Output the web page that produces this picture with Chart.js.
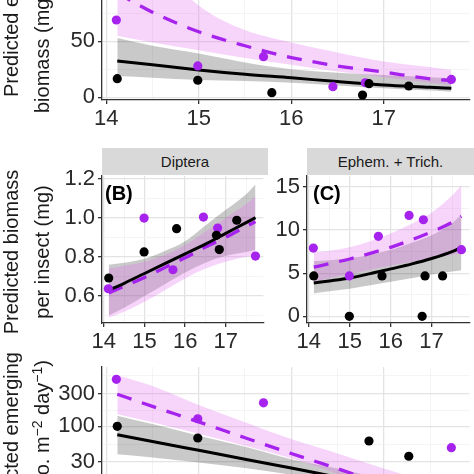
<!DOCTYPE html>
<html>
<head>
<meta charset="utf-8">
<script src="https://cdn.jsdelivr.net/npm/chart.js@4.4.1/dist/chart.umd.min.js"></script>
<style>
  html, body { margin: 0; padding: 0; background: #fff; }
  body { width: 474px; height: 474px; overflow: hidden; position: relative; font-family: "Liberation Sans", Arial, sans-serif; }
  canvas { position: absolute; }
  .strip { position: absolute; background: #d9d9d9; color: #1a1a1a; font-size: 15px; display: flex; align-items: center; justify-content: center; }
  .ytitle { position: absolute; width: 0; height: 0; transform: rotate(-90deg); transform-origin: 0 0; }
  .ytitle span { position: absolute; top: 0; white-space: nowrap; font-size: 20px; line-height: 20px; color: #1a1a1a; }
  .ytitle .start { left: 0; }
  .ytitle .end { right: 0; }
  .ytitle .mid { left: 0; transform: translateX(-50%); }
  .tag { position: absolute; font-weight: bold; font-size: 20px; line-height: 20px; color: #000; }
  sup { font-size: 0.7em; line-height: 0; vertical-align: 0.5em; }
</style>
</head>
<body>

<canvas id="chartA" width="474" height="190" style="left:0;top:-60px"></canvas>
<canvas id="chartB" width="268" height="203" style="left:0;top:150px"></canvas>
<canvas id="chartC" width="207" height="203" style="left:267px;top:150px"></canvas>
<canvas id="chartD" width="474" height="200" style="left:0;top:340px"></canvas>

<div class="strip" style="left:102px;top:148px;width:166px;height:27px">Diptera</div>
<div class="strip" style="left:307px;top:148px;width:167px;height:27px">Ephem. + Trich.</div>

<div class="tag" style="left:105px;top:183px">(B)</div>
<div class="tag" style="left:313px;top:183px">(C)</div>

<div class="ytitle" style="left:1px;top:97px"><span class="start">Predicted emerging</span></div>
<div class="ytitle" style="left:32px;top:113px"><span class="start">biomass (mg m<sup>−2</sup> day<sup>−1</sup>)</span></div>
<div class="ytitle" style="left:1px;top:252px"><span class="mid">Predicted biomass</span></div>
<div class="ytitle" style="left:32px;top:252px"><span class="mid">per insect (mg)</span></div>
<div class="ytitle" style="left:1px;top:352px"><span class="end">Predicted emerging</span></div>
<div class="ytitle" style="left:32px;top:360px"><span class="end">(no. m<sup>−2</sup> day<sup>−1</sup>)</span></div>

<script>
// x positions (temperature)
const xFit = [14.12, 14.5, 15, 15.5, 16, 16.5, 17, 17.5, 17.73];
const xBlackObs = [14.12, 14.99, 15.79, 16.77, 16.84, 17.27];
const xPurpleObs = [14.11, 14.99, 15.70, 16.45, 16.80, 17.73];
const xTicks = [14, 14.5, 15, 15.5, 16, 16.5, 17, 17.5];
const xLabels = ["14", "", "15", "", "16", "", "17", ""];

// (A) emerging biomass
const aBlackObs = [16.6, 15.2, 4.1, 2.0, 12.2, 10.1];
const aPurpleObs = [69, 28, 36.3, 9.5, 13, 16];
const aBlackFit = [32.4, 29, 24.4, 20.5, 17.4, 14, 11, 9, 8];
const aBlackLo = [19, 17.5, 15.5, 14.5, 13, 10.5, 8, 6, 5];
const aBlackHi = [53, 46, 39, 31, 25, 22, 20, 18, 17];
const aPurpleFit = [93, 76, 58.5, 46, 35.5, 28, 22.5, 16.5, 15];
const aPurpleLo = [55, 49, 42, 35, 29, 23, 18, 13, 11];
const aPurpleHi = [170, 125, 82, 60, 49, 40, 32, 27, 24.5];
const aYTicks = [0, 25, 50, 75, 100, 125];
const aYLabels = ["0", "", "50", "", "100", ""];

// (B) Diptera biomass per insect
const bBlackObs = [0.692, 0.825, 0.944, 0.91, 0.837, 0.987];
const bPurpleObs = [0.637, 0.998, 0.734, 1.003, 0.947, 0.804];
const bBlackFit = [0.63, 0.665, 0.715, 0.765, 0.815, 0.865, 0.92, 0.975, 1.0];
const bBlackLo = [0.50, 0.54, 0.60, 0.66, 0.72, 0.77, 0.805, 0.825, 0.835];
const bBlackHi = [0.76, 0.77, 0.79, 0.83, 0.88, 0.96, 1.04, 1.12, 1.17];
const bPurpleFit = [0.615, 0.65, 0.695, 0.745, 0.795, 0.85, 0.9, 0.955, 0.98];
const bPurpleLo = [0.49, 0.52, 0.57, 0.63, 0.69, 0.74, 0.775, 0.80, 0.81];
const bPurpleHi = [0.74, 0.755, 0.775, 0.81, 0.86, 0.93, 1.0, 1.07, 1.11];
const bYTicks = [0.5, 0.6, 0.7, 0.8, 0.9, 1.0, 1.1, 1.2];
const bYLabels = ["", "0.6", "", "0.8", "", "1.0", "", "1.2"];

// (C) Ephem. + Trich. biomass per insect
const cBlackObs = [4.68, 0, 4.68, 0, 4.68, 4.68];
const cPurpleObs = [7.92, 4.68, 9.28, 11.7, 11.2, 7.73];
const cBlackFit = [3.86, 4.1, 4.45, 4.95, 5.5, 6.05, 6.7, 7.5, 8.0];
const cBlackLo = [2.65, 2.9, 3.2, 3.6, 4.0, 4.4, 4.85, 5.2, 5.35];
const cBlackHi = [6.4, 6.5, 6.75, 7.15, 7.7, 8.5, 9.4, 10.8, 11.8];
const cPurpleFit = [5.7, 6.1, 6.65, 7.3, 8.0, 8.85, 9.8, 10.9, 11.6];
const cPurpleLo = [4.0, 4.4, 4.9, 5.4, 5.9, 6.3, 6.7, 7.1, 7.3];
const cPurpleHi = [7.45, 7.6, 8.0, 8.7, 9.6, 10.7, 12.0, 14.0, 15.2];
const cYTicks = [0, 2.5, 5, 7.5, 10, 12.5, 15];
const cYLabels = ["0", "", "5", "", "10", "", "15"];

// (D) emerging insects, log scale
const dBlackObs = [100, 67.4, 8, 5, 60.9, 36.4];
const dPurpleObs = [488, 129, 221, 10, 12, 48.6];
const dBlackFit = [75, 60, 44.5, 33, 24.5, 18, 13.3, 9.8, 8.4];
const dBlackLo = [39, 35, 29.5, 24.5, 19.5, 14.5, 10.5, 7.5, 6.5];
const dBlackHi = [143, 108, 73, 50, 33, 24, 17, 12.5, 11];
const dPurpleFit = [294, 196, 116, 68, 40, 24, 14, 8.3, 6.5];
const dPurpleLo = [150, 115, 78, 52, 34, 20, 11, 6, 4.5];
const dPurpleHi = [560, 390, 205, 115, 65, 40, 24, 15, 12];
const dYTicks = [10, 17.3, 30, 54.8, 100, 173, 300, 548];
const dYLabels = ["10", "", "30", "", "100", "", "300", ""];

const PURPLE = "#a623ee";
const PURPLE_FILL = "rgba(228, 110, 242, 0.29)";
const GREY_FILL = "rgba(0, 0, 0, 0.21)";
const TICK_FONT = { family: "'Liberation Sans', Arial, sans-serif", size: 22 };

function pts(xs, ys) {
  return xs.map((x, i) => ({ x: x, y: ys[i] }));
}

function band(ys, order) {
  return { data: pts(xFit, ys), borderWidth: 0, pointRadius: 0, fill: false, order: order, cubicInterpolationMode: "monotone" };
}

function axisGrid(labels) {
  return {
    color: (c) => (labels[c.index] ? "#e3e3e3" : "#f1f1f1"),
    lineWidth: (c) => (labels[c.index] ? 1.3 : 0.8),
    tickColor: (c) => (labels[c.index] ? "#333" : "rgba(0,0,0,0)"),
    tickLength: 4,
  };
}

function makePanel(id, p) {
  const datasets = [
    band(p.blackLo, 6),
    Object.assign(band(p.blackHi, 6), { fill: { target: 0 }, backgroundColor: GREY_FILL }),
    band(p.purpleLo, 5),
    Object.assign(band(p.purpleHi, 5), { fill: { target: 2 }, backgroundColor: PURPLE_FILL }),
    { data: pts(xFit, p.blackFit), borderColor: "#000", borderWidth: 3, pointRadius: 0, fill: false, order: 3, cubicInterpolationMode: "monotone" },
    { data: pts(xFit, p.purpleFit), borderColor: PURPLE, borderWidth: 3.3, borderDash: [15, 11], pointRadius: 0, fill: false, order: 4, cubicInterpolationMode: "monotone" },
    { data: pts(xBlackObs, p.blackObs), showLine: false, pointRadius: 4.6, pointBorderWidth: 0, pointBackgroundColor: "#000", order: 1 },
    { data: pts(xPurpleObs, p.purpleObs), showLine: false, pointRadius: 4.6, pointBorderWidth: 0, pointBackgroundColor: PURPLE, order: 2 },
  ];

  new Chart(document.getElementById(id), {
    type: "line",
    data: { datasets: datasets },
    options: {
      responsive: false,
      animation: false,
      devicePixelRatio: 1,
      events: [],
      layout: { padding: { top: p.padTop, left: 0, right: 0, bottom: 0 } },
      plugins: { legend: { display: false }, tooltip: { enabled: false } },
      scales: {
        x: {
          type: "linear",
          min: 13.955,
          max: 17.925,
          afterBuildTicks: (s) => { s.ticks = xTicks.map((v) => ({ value: v })); },
          afterFit: (s) => { s.height = 30; s.paddingLeft = 0; s.paddingRight = 0; },
          ticks: { autoSkip: false, maxRotation: 0, padding: 2, color: "#2a2a2a", font: TICK_FONT, callback: (v, i) => xLabels[i] },
          grid: axisGrid(xLabels),
          border: { color: "#333", width: 1.3 },
        },
        y: {
          type: p.logY ? "logarithmic" : "linear",
          min: p.yMin,
          max: p.yMax,
          afterBuildTicks: (s) => { s.ticks = p.yTicks.map((v) => ({ value: v })); },
          afterFit: (s) => { s.width = p.yWidth; s.paddingTop = 0; s.paddingBottom = 0; },
          ticks: { autoSkip: false, padding: 3, color: "#2a2a2a", font: TICK_FONT, callback: (v, i) => p.yLabels[i] },
          grid: axisGrid(p.yLabels),
          border: { color: "#333", width: 1.3 },
        },
      },
    },
  });
}

makePanel("chartA", {
  blackObs: aBlackObs, purpleObs: aPurpleObs,
  blackFit: aBlackFit, blackLo: aBlackLo, blackHi: aBlackHi,
  purpleFit: aPurpleFit, purpleLo: aPurpleLo, purpleHi: aPurpleHi,
  yTicks: aYTicks, yLabels: aYLabels, yMin: -2.41, yMax: 131.5,
  yWidth: 102, padTop: 10,
});

makePanel("chartB", {
  blackObs: bBlackObs, purpleObs: bPurpleObs,
  blackFit: bBlackFit, blackLo: bBlackLo, blackHi: bBlackHi,
  purpleFit: bPurpleFit, purpleLo: bPurpleLo, purpleHi: bPurpleHi,
  yTicks: bYTicks, yLabels: bYLabels, yMin: 0.4621, yMax: 1.2129,
  yWidth: 102, padTop: 26,
});

makePanel("chartC", {
  blackObs: cBlackObs, purpleObs: cPurpleObs,
  blackFit: cBlackFit, blackLo: cBlackLo, blackHi: cBlackHi,
  purpleFit: cPurpleFit, purpleLo: cPurpleLo, purpleHi: cPurpleHi,
  yTicks: cYTicks, yLabels: cYLabels, yMin: -0.777, yMax: 16.276,
  yWidth: 40, padTop: 26,
});

makePanel("chartD", {
  blackObs: dBlackObs, purpleObs: dPurpleObs,
  blackFit: dBlackFit, blackLo: dBlackLo, blackHi: dBlackHi,
  purpleFit: dPurpleFit, purpleLo: dPurpleLo, purpleHi: dPurpleHi,
  yTicks: dYTicks, yLabels: dYLabels, yMin: 5.948, yMax: 738.3, logY: true,
  yWidth: 102, padTop: 27,
});
</script>
</body>
</html>
